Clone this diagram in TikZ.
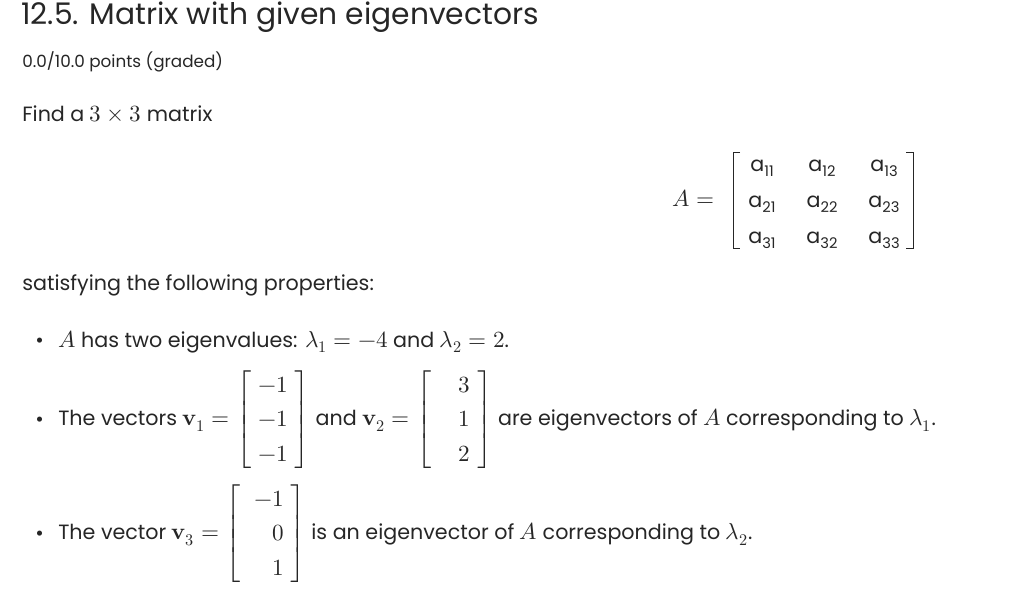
\documentclass[tikz,border=0pt]{standalone}
\usepackage{amsmath}
\usepackage{unicode-math}
\setmainfont{Poppins}
\setmathfont{Latin Modern Math}[Scale=1.12]
\newcommand\sbs[1]{\raisebox{-3.5pt}{\fontsize{11}{12}\selectfont #1}}
\begin{document}
\begin{tikzpicture}[x=0.75pt,y=-0.75pt,
  txt/.style={anchor=base west,inner sep=0pt,text=black!85,font=\fontsize{15.5}{18}\selectfont},
  ln/.style={anchor=west,inner sep=0pt,text=black!85,font=\fontsize{15.5}{18}\selectfont},
  ent/.style={inner sep=0pt,text=black!85,font=\fontsize{15.5}{18}\selectfont},
  brk/.style={draw=black!85,line width=0.6pt}]
\useasboundingbox (0,0) rectangle (1019,601);
\renewcommand\arraystretch{1.45}
\node[txt,font=\fontsize{22.3}{26}\selectfont] (title) at (21,24) {12.5. Matrix with given eigenvectors};
\node[txt,font=\fontsize{12.6}{15}\selectfont] (pts) at (22,67) {0.0/10.0 points (graded)};
\node[txt] (find) at (22,121) {Find a $3\times3$ matrix};
% matrix A
\node[ln] (Aeq) at (672,198) {$A=$};
\draw[brk] (740,152) -- (733,152) -- (733,248) -- (740,248);
\draw[brk] (906,152) -- (913,152) -- (913,248) -- (906,248);
\foreach \r/\y in {1/168,2/204,3/240}{
  \foreach \c/\x in {1/762,2/822,3/884}{
    \node[ent] (a\r\c) at (\x,\y) {a\sbs{\r\c}};
  }
}
\node[txt] (sat) at (22,290) {satisfying the following properties:};
\node[txt] (b1) at (35,347) {•};
\node[txt] (l1) at (58,347) {$A$ has two eigenvalues: $\lambda_1=-4$ and $\lambda_2=2$.};
\node[txt] (b2) at (35,426) {•};
\node[ln] (l2) at (58,420) {The vectors $\symbfup{v}_1=\left[\begin{array}{r}-1\\-1\\-1\end{array}\right]$ and $\symbfup{v}_2=\left[\begin{array}{r}\quad3\\1\\2\end{array}\right]$ are eigenvectors of $A$ corresponding to $\lambda_1$.};
\node[txt] (b3) at (35,540) {•};
\node[ln] (l3) at (58,534) {The vector $\symbfup{v}_3=\left[\begin{array}{r}\;-1\\0\\1\end{array}\right]$ is an eigenvector of $A$ corresponding to $\lambda_2$.};
\end{tikzpicture}
\end{document}
